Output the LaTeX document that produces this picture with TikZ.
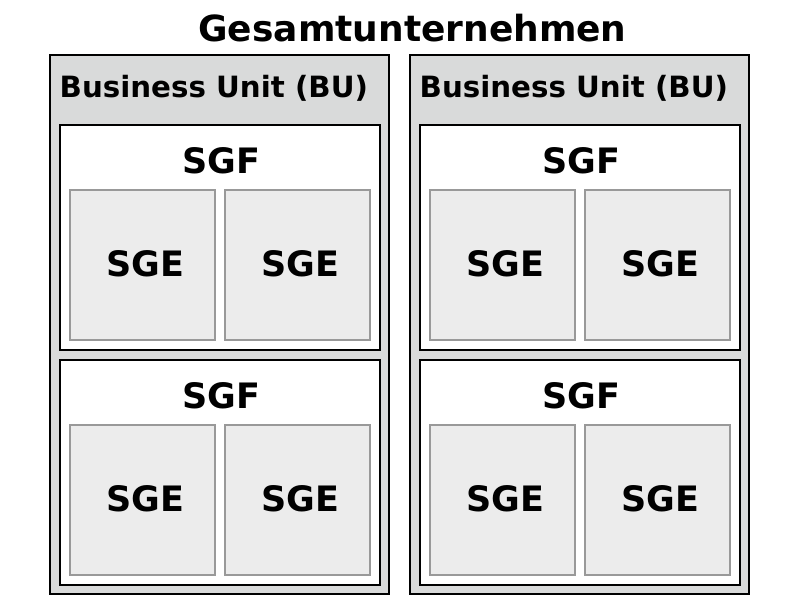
\documentclass[tikz,border=0pt]{standalone}
\usepackage{fontspec}
\setmainfont{DejaVu Sans}
\definecolor{bugray}{RGB}{217,218,218}
\definecolor{sgefill}{RGB}{236,236,236}
\definecolor{sgeline}{RGB}{153,153,153}
\tikzset{
  bubox/.style={draw=black, line width=2pt, fill=bugray, rectangle, inner sep=0pt, outer sep=0pt, minimum width=339pt, minimum height=539.3pt},
  sgfbox/.style={draw=black, line width=2pt, fill=white, rectangle, inner sep=0pt, outer sep=0pt, minimum width=320pt, minimum height=225pt},
  sgebox/.style={draw=sgeline, line width=2pt, fill=sgefill, rectangle, inner sep=0pt, outer sep=0pt, minimum width=145pt, minimum height=149.5pt},
  titletext/.style={inner sep=0pt, anchor=base, font=\fontsize{36}{43}\selectfont\bfseries},
  butext/.style={inner sep=0pt, anchor=base west, font=\fontsize{29.3}{35}\selectfont\bfseries},
  bigtext/.style={inner sep=0pt, anchor=base, font=\fontsize{35}{42}\selectfont\bfseries}
}
\begin{document}
\begin{tikzpicture}[x=1pt,y=-1pt]
\useasboundingbox (0,0) rectangle (800,600);
\fill[white] (0,0) rectangle (800,600);
\node[titletext] (title) at (412.5,41.3) {Gesamtunternehmen};
\foreach \b/\dx in {1/0,2/360} {
  \node[bubox] (bu\b) at (219.8+\dx,324.65) {};
  \node[butext] (bulabel\b) at (59.5+\dx,97.3) {Business Unit (BU)};
  \foreach \f/\dy in {1/0,2/235} {
    \node[sgfbox] (sgf\b\f) at (220+\dx,237.5+\dy) {};
    \node[bigtext] (sgflabel\b\f) at (221.7+\dx,173.3+\dy) {SGF};
    \node[sgebox] (sge\b\f a) at (142.8+\dx,264.75+\dy) {};
    \node[sgebox] (sge\b\f b) at (297.7+\dx,264.75+\dy) {};
    \node[bigtext] (sgelabel\b\f a) at (145.5+\dx,276.7+\dy) {SGE};
    \node[bigtext] (sgelabel\b\f b) at (300.4+\dx,276.7+\dy) {SGE};
  }
}
\end{tikzpicture}
\end{document}
